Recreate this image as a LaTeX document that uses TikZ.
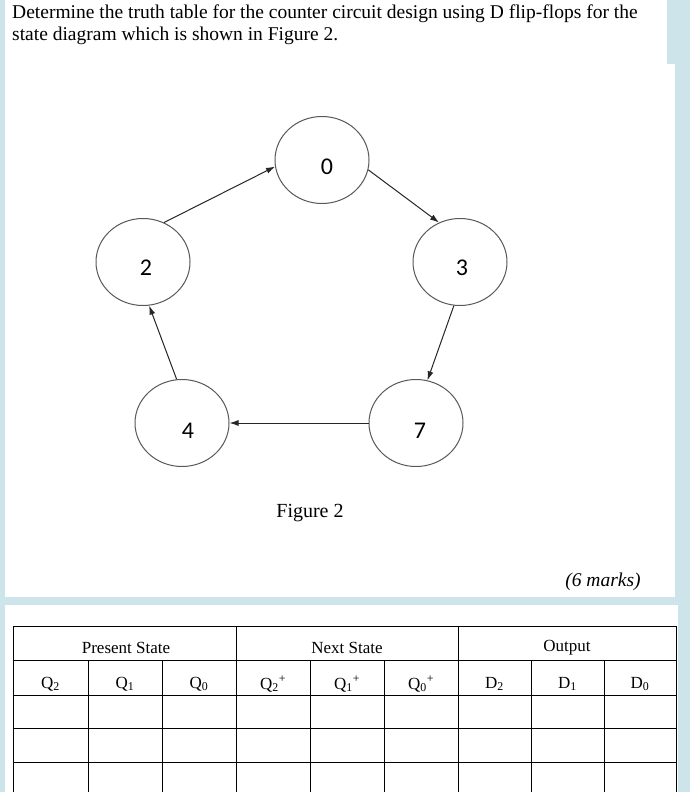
\documentclass[tikz,border=0pt]{standalone}
\usepackage{fontspec}
\usetikzlibrary{shapes.geometric,arrows.meta}
\setmainfont{Liberation Serif}
\newfontfamily\numfont{Carlito}
\definecolor{bgblue}{HTML}{CDE5EA}
\begin{document}
\begin{tikzpicture}[x=1pt,y=-1pt,
  st/.style={draw=black!65,line width=1pt,ellipse,minimum width=94pt,minimum height=87pt,inner sep=0pt},
  num/.style={font=\numfont\fontsize{24}{24}\selectfont},
  arr/.style={-{Latex[length=9pt,width=6pt]},line width=1pt,black!85},
  cell/.style={font=\fontsize{17}{17}\selectfont}]
\fill[bgblue] (0,0) rectangle (690,792);
\useasboundingbox (0,0) rectangle (690,792);
\fill[white] (5,0) rectangle (667,64);
\fill[white] (5,64) rectangle (675,597);
\fill[white] (5,605) rectangle (678,792);
\node[anchor=north west,align=left,inner sep=0pt,font=\fontsize{19.5}{22}\selectfont] (q) at (12,5)
 {Determine the truth table for the counter circuit design using D flip-flops for the\\state diagram which is shown in Figure 2.};
\node[st] (s0) at (322,160) {};
\node[st] (s2) at (143,262) {};
\node[st] (s3) at (460,262) {};
\node[st] (s4) at (182,423) {};
\node[st] (s7) at (416,423) {};
\node[num] (l0) at (327,167) {0};
\node[num] (l2) at (146,268) {2};
\node[num] (l3) at (462,268) {3};
\node[num] (l4) at (188,431) {4};
\node[num] (l7) at (420,431) {7};
\draw[arr] (s2.62) -- (s0.188);
\draw[arr] (s0.-12) -- (s3.118);
\draw[arr] (s3.-98) -- (s7.75);
\draw[arr] (s7.west) -- (s4.east);
\draw[arr] (s4.97) -- (s2.-82);
\node[font=\fontsize{20}{20}\selectfont] (fig) at (310,513) {Figure 2};
\node[font=\itshape\fontsize{19.5}{20}\selectfont] (mk) at (603,582) {(6 marks)};
% table
\draw[line width=0.9pt] (13,626) rectangle (676,800);
\foreach \y in {660,695,728,762} \draw[line width=0.9pt] (13,\y) -- (676,\y);
\foreach \x in {236,458} \draw[line width=0.9pt] (\x,626) -- (\x,800);
\foreach \x in {88,162,310,384,531,604} \draw[line width=0.9pt] (\x,660) -- (\x,800);
\node[cell] (h1) at (126,648) {Present State};
\node[cell] (h2) at (347,648) {Next State};
\node[cell] (h3) at (567,648) {Output};
\node[cell] (c1) at (50.5,684) {Q\textsubscript{2}};
\node[cell] (c2) at (125,684) {Q\textsubscript{1}};
\node[cell] (c3) at (199,684) {Q\textsubscript{0}};
\node[cell] (c4) at (273,684) {Q\textsubscript{2}\textsuperscript{+}};
\node[cell] (c5) at (347,684) {Q\textsubscript{1}\textsuperscript{+}};
\node[cell] (c6) at (421,684) {Q\textsubscript{0}\textsuperscript{+}};
\node[cell] (c7) at (494.5,684) {D\textsubscript{2}};
\node[cell] (c8) at (567.5,684) {D\textsubscript{1}};
\node[cell] (c9) at (640,684) {D\textsubscript{0}};
\end{tikzpicture}
\end{document}
